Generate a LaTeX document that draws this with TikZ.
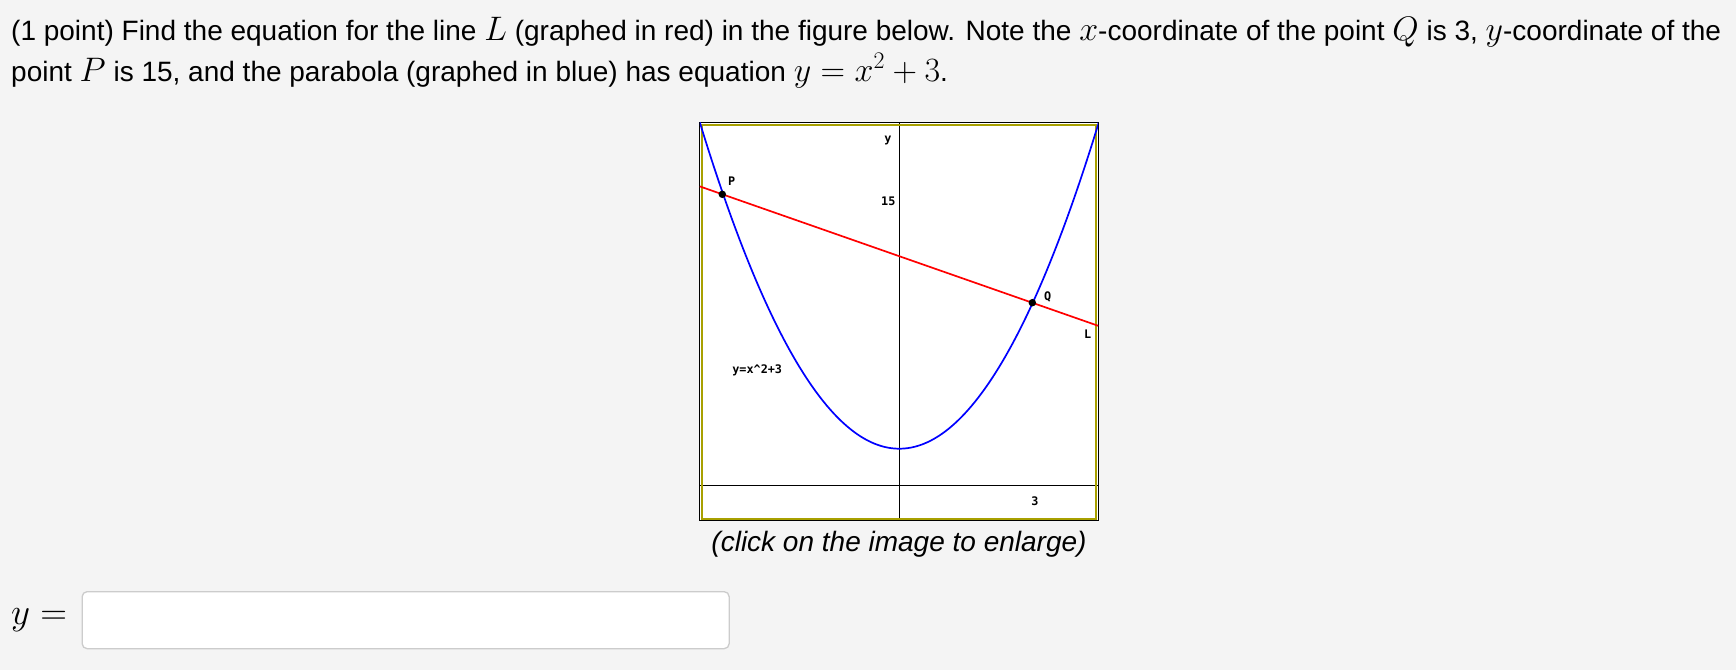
\documentclass[tikz,border=0pt]{standalone}
\usepackage{fix-cm}
\usepackage{fontspec}
\setmainfont{Liberation Sans}
\newfontfamily\plotfont{DejaVu Sans Mono}
\definecolor{pagebg}{RGB}{244,244,244}
\definecolor{framecol}{RGB}{168,160,0}
\definecolor{boxline}{RGB}{204,204,204}
\newcommand{\mth}[1]{{\fontsize{34}{36}\selectfont$#1$}}

\begin{document}
\begin{tikzpicture}[x=1pt, y=-1pt,
    question/.style={anchor=base west, inner sep=0pt, font=\fontsize{28}{32}\selectfont},
    plotlabel/.style={inner sep=0pt, font=\plotfont\bfseries\fontsize{11.8}{13}\selectfont},
    axisline/.style={draw=black, line width=1pt},
    parabola/.style={draw=blue, line width=1.7pt},
    redline/.style={draw=red, line width=1.7pt},
    dot/.style={circle, fill=black, inner sep=0pt, minimum size=7.5pt}
  ]
  \fill[pagebg] (0,0) rectangle (1736,670);

  \coordinate (fr1) at (699.8,122.5);
  \coordinate (fr2) at (1098.2,520.8);
  \coordinate (yel1) at (701.7,124.7);
  \coordinate (yel2) at (1096.3,518.7);
  \coordinate (ytop) at (899.3,122.5);
  \coordinate (ybot) at (899.3,520.8);
  \coordinate (xleft) at (699.8,485.3);
  \coordinate (xright) at (1098.2,485.3);
  \coordinate (Lstart) at (699.8,186.4);
  \coordinate (Lend) at (1098.2,325.8);

  % Question text
  \node[question] (line1) at (11,40) {(1 point) Find the equation for the line \mth{L} (graphed in red) in the figure below. Note the \mth{x}-coordinate of the point \mth{Q} is 3, \mth{y}-coordinate of the};
  \node[question] (line2) at (11,81) {point \mth{P} is 15, and the parabola (graphed in blue) has equation \mth{y = x^2 + 3}.};

  % Graph
  \draw[fill=white, line width=1pt] (fr1) rectangle (fr2);
  \draw[axisline] (ytop) -- (ybot);
  \draw[axisline] (xleft) -- (xright);
  \draw[draw=framecol, line width=2pt] (yel1) rectangle (yel2);
  \begin{scope}
    \clip (fr1) rectangle (fr2);
    \draw[parabola] plot[domain=-2.01:2.01, samples=120] ({899.3+100*\x},{448.7-82*\x*\x});
  \end{scope}
  \draw[redline] (Lstart) -- (Lend);
  \node[dot] (P) at (722.3,194.3) {};
  \node[dot] (Q) at (1032.3,302.7) {};

  \node[plotlabel] (ylab) at (888,140.2) {y};
  \node[plotlabel] (Plab) at (731.7,180.7) {P};
  \node[plotlabel] (ticklab) at (888.3,201.2) {15};
  \node[plotlabel] (Qlab) at (1047.7,297.3) {Q};
  \node[plotlabel] (Llab) at (1087.7,334.3) {L};
  \node[plotlabel] (eqlab) at (757.2,370) {y=x\^{}2+3};
  \node[plotlabel] (xlab) at (1035,500.8) {3};

  \node[anchor=base, inner sep=0pt, font=\itshape\fontsize{28}{32}\selectfont] (caption) at (899,551) {(click on the image to enlarge)};

  % Answer
  \node[question, font=\fontsize{37}{40}\selectfont] (ans) at (11,624) {$y =$};
  \node[draw=boxline, fill=white, rounded corners=5pt, line width=1.3pt, minimum width=647pt, minimum height=57pt, anchor=north west] (answerbox) at (81.5,591) {};
\end{tikzpicture}
\end{document}
